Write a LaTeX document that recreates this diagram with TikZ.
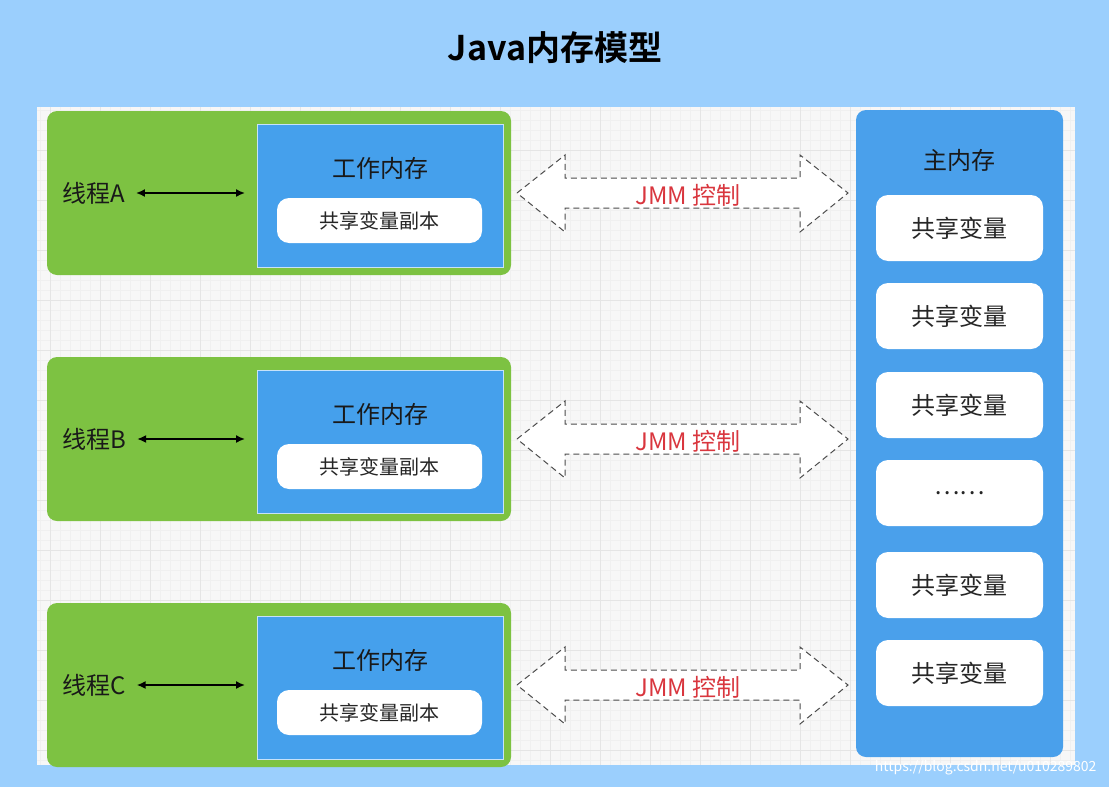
\documentclass[tikz,border=0pt]{standalone}
\usepackage{fontspec}
\usetikzlibrary{arrows.meta}
\setmainfont{Noto Sans CJK SC}
\newfontfamily\cjkb{Noto Sans CJK SC Bold}
\begin{document}
\definecolor{bgblue}{HTML}{9BCFFD}
\definecolor{tgreen}{HTML}{7DC242}
\definecolor{wblue}{HTML}{45A0EC}
\definecolor{mblue}{HTML}{4AA0EB}
\definecolor{jred}{HTML}{D9363E}
\begin{tikzpicture}[x=1pt,y=-1pt,
  thread/.style={draw=none,fill=tgreen,rounded corners=10pt},
  work/.style={draw=white!70!wblue,line width=1pt,fill=wblue},
  pill/.style={fill=white,rounded corners=12pt,font=\fontsize{20}{20}\selectfont,text=black!85},
  lbl/.style={font=\fontsize{24}{24}\selectfont,text=black!90},
  jmm/.style={draw=black!70,dash pattern=on 6pt off 4pt,line width=1pt,fill=white},
  arr/.style={{Latex[length=9pt,width=8pt]}-{Latex[length=9pt,width=8pt]},line width=1.6pt}]
\useasboundingbox (0,0) rectangle (1109,787);
\fill[bgblue] (0,0) rectangle (1109,787);
\fill[white!97!black] (37,107) rectangle (1075,765);
\foreach \x in {40,50,...,1070} \draw[black!6,line width=0.3pt] (\x,107) -- (\x,765);
\foreach \y in {110,120,...,760} \draw[black!6,line width=0.3pt] (37,\y) -- (1075,\y);
\foreach \x in {50,100,...,1050} \draw[black!10,line width=0.4pt] (\x,107) -- (\x,765);
\foreach \y in {150,200,...,750} \draw[black!10,line width=0.4pt] (37,\y) -- (1075,\y);
\node[font=\cjkb\fontsize{34}{34}\selectfont] (title) at (555,48) {Java内存模型};
% main memory
\fill[mblue,rounded corners=10pt] (856,110) rectangle (1063,757);
\node[lbl] (mm) at (959,160) {主内存};
\foreach \y/\t [count=\i] in {195/共享变量,283/共享变量,372/共享变量,460/……,552/共享变量,640/共享变量}{
  \node[pill,minimum width=167pt,minimum height=66pt,font=\fontsize{24}{24}\selectfont] (v\i) at (959.5,\y+33) {\t};
}
\foreach \o/\n in {0/A,246/B,492/C}{
  \fill[thread] (47,111+\o) rectangle (511,275+\o);
  \draw[work] (257,124+\o) rectangle (503,267+\o);
  \node[lbl] (wt\n) at (380,168+\o) {工作内存};
  \node[pill,minimum width=205pt,minimum height=45pt] (cp\n) at (379.5,220.5+\o) {共享变量副本};
  \node[lbl,anchor=west,inner sep=0pt] (th\n) at (62,193+\o) {线程\n};
  \coordinate (ae\n) at (245,193+\o);
  \draw[arr] (th\n.east) ++(11,0) coordinate (as\n) -- (ae\n);
  \draw[jmm] (517,193+\o) -- (565,155+\o) -- (565,178+\o) -- (800,178+\o) -- (800,155+\o) -- (848,193+\o)
     -- (800,232+\o) -- (800,208+\o) -- (565,208+\o) -- (565,232+\o) -- cycle;
  \node[text=jred,font=\fontsize{24}{24}\selectfont] (j\n) at (688,195+\o) {JMM 控制};
}
\node[text=white,font=\fontsize{14}{14}\selectfont,anchor=east] (wm) at (1100,768) {https://blog.csdn.net/u010289802};
\end{tikzpicture}
\end{document}
